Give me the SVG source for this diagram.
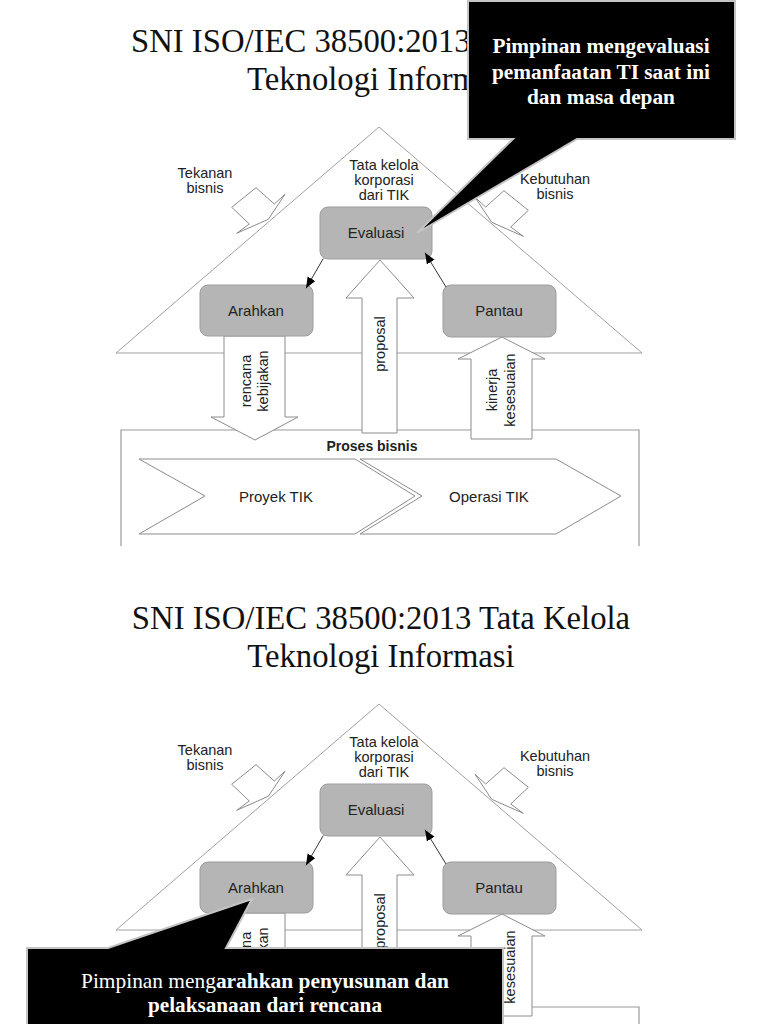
<svg xmlns="http://www.w3.org/2000/svg" width="768" height="1024" viewBox="0 0 768 1024">
<defs>
<style>
.title{font-family:"Liberation Serif","Times New Roman",serif;font-size:32.7px;fill:#111;text-anchor:middle}
.titles{font-family:"Liberation Serif","Times New Roman",serif;font-size:32.7px;fill:#111;text-anchor:start}
.lbl{font-family:"Liberation Sans",Arial,sans-serif;font-size:14.5px;fill:#222;text-anchor:middle}
.blbl{font-family:"Liberation Sans",Arial,sans-serif;font-size:15px;fill:#222;text-anchor:middle}
.box{fill:#b5b5b5;stroke:#9d9d9d;stroke-width:1}
.tri{fill:#fff;stroke:#a0a0a0;stroke-width:1}
.barrow{fill:#fff;stroke:#8c8c8c;stroke-width:1}
.frame{fill:none;stroke:#9a9a9a;stroke-width:1.2}
.conn{stroke:#333;stroke-width:1;fill:none}
.callout{fill:#000;stroke:#c4c4c4;stroke-width:2}
.ctext{font-family:"Liberation Serif","Times New Roman",serif;font-weight:bold;fill:#fff;text-anchor:middle}
</style>
<marker id="ah" markerUnits="userSpaceOnUse" markerWidth="12" markerHeight="10" refX="11" refY="4.5" orient="auto">
<path d="M0,0 L11,4.5 L0,9 Z" fill="#000"/>
</marker>
</defs>
<rect width="768" height="1024" fill="#fff"/>

<!-- ===== TOP SLIDE ===== -->
<g id="title-top">
<text class="titles" x="131" y="52">SNI ISO/IEC 38500:2013</text>
<text class="titles" x="247" y="90">Teknologi Inform</text>
</g>

<g id="roof-top"><polygon class="tri" points="379,127 116,353 642,353"/></g>

<g id="proses-top">
<path class="frame" d="M121,546 V430 H639 V546"/>
<text x="372" y="451" style="font-family:'Liberation Sans',Arial,sans-serif;font-size:14px;font-weight:bold;fill:#222;text-anchor:middle">Proses bisnis</text>
</g>
<g id="proyek-top">
<polygon class="barrow" points="139,459 355,459 415,496 355,534 139,534 205,496"/>
<text class="blbl" x="276" y="502">Proyek TIK</text>
</g>
<g id="operasi-top">
<polygon class="barrow" points="360,459 556,459 621,496 556,534 360,534 422,496"/>
<text class="blbl" x="489" y="502">Operasi TIK</text>
</g>

<g id="tekanan-top">
<polygon class="barrow" points="231.7,207.3 256,187.7 274.3,204 285,194.3 268.3,219.3 236.7,233.3 249.3,224"/>
<text class="lbl" x="205" y="178">Tekanan</text>
<text class="lbl" x="205" y="193">bisnis</text>
</g>
<g id="kebutuhan-top">
<polygon class="barrow" points="528.3,210.3 504,190.7 485.7,207 475,197.3 491.7,222.3 523.3,236.3 510.7,227"/>
<text class="lbl" x="555" y="184">Kebutuhan</text>
<text class="lbl" x="555" y="199">bisnis</text>
</g>
<g id="tatakelola-top">
<text class="lbl" x="384" y="170">Tata kelola</text>
<text class="lbl" x="384" y="185">korporasi</text>
<text class="lbl" x="384" y="200">dari TIK</text>
</g>

<g id="proposal-top">
<polygon class="barrow" points="362,433 362,298 346,298 380,260 414,298 397,298 397,433"/>
<text class="lbl" transform="translate(385,344) rotate(-90)">proposal</text>
</g>
<g id="rencana-top">
<polygon class="barrow" points="224,336 285,336 285,417 298,417 255,440 211,417 224,417"/>
<text class="lbl" transform="translate(251,381) rotate(-90)">rencana</text>
<text class="lbl" transform="translate(268,381) rotate(-90)">kebijakan</text>
</g>
<g id="kinerja-top">
<polygon class="barrow" points="471,439 471,359 458,359 502,337 545,359 532,359 532,439"/>
<text class="lbl" transform="translate(497,390) rotate(-90)">kinerja</text>
<text class="lbl" transform="translate(515,390) rotate(-90)">kesesuaian</text>
</g>

<g id="evaluasi-top">
<rect class="box" x="320" y="207" width="112" height="52" rx="8"/>
<text class="blbl" x="376" y="238">Evaluasi</text>
</g>
<g id="arahkan-top">
<rect class="box" x="200" y="285" width="113" height="51" rx="8"/>
<text class="blbl" x="256" y="316">Arahkan</text>
</g>
<g id="pantau-top">
<rect class="box" x="443" y="285" width="113" height="52" rx="8"/>
<text class="blbl" x="499" y="316">Pantau</text>
</g>

<g id="connectors-top">
<line class="conn" x1="323.3" y1="258.5" x2="306" y2="288.3" marker-end="url(#ah)"/>
<line class="conn" x1="446" y1="287" x2="425" y2="252.7" marker-end="url(#ah)"/>
</g>

<g id="callout-top">
<path class="callout" d="M468,1 H735 V139 H577 L417,233 L513,139 H468 Z"/>
<text class="ctext" x="601" y="53" font-size="21.3">Pimpinan mengevaluasi</text>
<text class="ctext" x="601" y="79" font-size="21.3">pemanfaatan TI saat ini</text>
<text class="ctext" x="601" y="104" font-size="21.3">dan masa depan</text>
</g>

<!-- ===== BOTTOM SLIDE ===== -->
<g id="title-bottom">
<text class="title" x="381" y="629">SNI ISO/IEC 38500:2013 Tata Kelola</text>
<text class="title" x="381" y="667">Teknologi Informasi</text>
</g>

<g transform="translate(0,577)">
<g id="roof-bottom"><polygon class="tri" points="379,127 116,353 642,353"/></g>
<g id="proses-bottom"><path class="frame" d="M121,546 V430 H639 V546"/></g>
<g id="tekanan-bottom">
<polygon class="barrow" points="231.7,207.3 256,187.7 274.3,204 285,194.3 268.3,219.3 236.7,233.3 249.3,224"/>
<text class="lbl" x="205" y="178">Tekanan</text>
<text class="lbl" x="205" y="193">bisnis</text>
</g>
<g id="kebutuhan-bottom">
<polygon class="barrow" points="528.3,210.3 504,190.7 485.7,207 475,197.3 491.7,222.3 523.3,236.3 510.7,227"/>
<text class="lbl" x="555" y="184">Kebutuhan</text>
<text class="lbl" x="555" y="199">bisnis</text>
</g>
<g id="tatakelola-bottom">
<text class="lbl" x="384" y="170">Tata kelola</text>
<text class="lbl" x="384" y="185">korporasi</text>
<text class="lbl" x="384" y="200">dari TIK</text>
</g>
<g id="proposal-bottom">
<polygon class="barrow" points="362,433 362,298 346,298 380,260 414,298 397,298 397,433"/>
<text class="lbl" transform="translate(385,344) rotate(-90)">proposal</text>
</g>
<g id="rencana-bottom">
<polygon class="barrow" points="224,336 285,336 285,417 298,417 255,440 211,417 224,417"/>
<text class="lbl" transform="translate(251,381) rotate(-90)">rencana</text>
<text class="lbl" transform="translate(268,381) rotate(-90)">kebijakan</text>
</g>
<g id="kinerja-bottom">
<polygon class="barrow" points="471,439 471,359 458,359 502,337 545,359 532,359 532,439"/>
<text class="lbl" transform="translate(515,390) rotate(-90)">kesesuaian</text>
</g>
<g id="evaluasi-bottom">
<rect class="box" x="320" y="207" width="112" height="52" rx="8"/>
<text class="blbl" x="376" y="238">Evaluasi</text>
</g>
<g id="arahkan-bottom">
<rect class="box" x="200" y="285" width="113" height="51" rx="8"/>
<text class="blbl" x="256" y="316">Arahkan</text>
</g>
<g id="pantau-bottom">
<rect class="box" x="443" y="285" width="113" height="52" rx="8"/>
<text class="blbl" x="499" y="316">Pantau</text>
</g>
<g id="connectors-bottom">
<line class="conn" x1="323.3" y1="258.5" x2="306" y2="288.3" marker-end="url(#ah)"/>
<line class="conn" x1="446" y1="287" x2="425" y2="252.7" marker-end="url(#ah)"/>
</g>
</g>

<g id="callout-bottom">
<path class="callout" d="M27,948 H108 L252,899 L226,948 H503 V1030 H27 Z"/>
<text class="ctext" x="265" y="988" font-size="21.5" textLength="368" lengthAdjust="spacingAndGlyphs"><tspan font-weight="normal">Pimpinan meng</tspan>arahkan penyusunan dan</text>
<text class="ctext" x="265" y="1012" font-size="21.5" textLength="234" lengthAdjust="spacingAndGlyphs">pelaksanaan dari rencana</text>
</g>
</svg>
